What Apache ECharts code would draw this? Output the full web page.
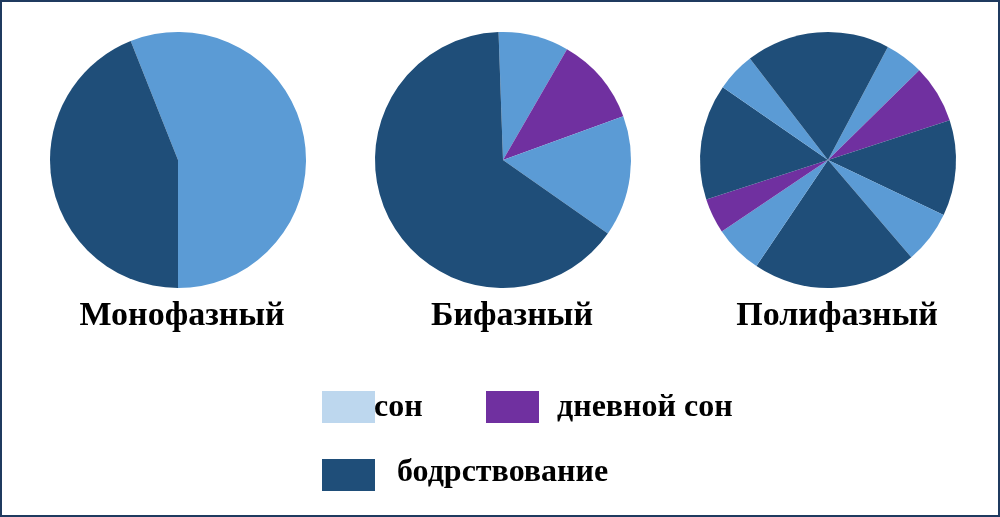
<!DOCTYPE html>
<html>
<head>
<meta charset="utf-8">
<script src="https://cdn.jsdelivr.net/npm/echarts@6/dist/echarts.min.js"></script>
<style>
html,body{margin:0;padding:0;background:#fff}
#chart{width:1000px;height:517px;box-sizing:border-box;border:2px solid #1f3a5f}
</style>
</head>
<body>
<div id="chart"></div>
<script>
// названия диаграмм
var pieNames = ['Монофазный', 'Бифазный', 'Полифазный'];
var legendNames = ['сон', 'дневной сон', 'бодрствование'];
// углы секторов (градусы), начиная с начального угла по часовой стрелке
var monoKinds = ['сон', 'бодрствование'];
var monoValues = [201.7, 158.3];
var biKinds = ['сон', 'дневной сон', 'сон', 'бодрствование'];
var biValues = [32, 40, 55, 233];
var polyKinds = ['сон', 'дневной сон', 'бодрствование', 'сон', 'бодрствование', 'сон', 'дневной сон', 'бодрствование', 'сон', 'бодрствование'];
var polyValues = [17.6, 26.4, 43.5, 24, 74.6, 22.1, 15.9, 52.7, 17.7, 65.5];
var startAngles = [111.7, 92, 62.1];

var colors = {'сон': '#5b9bd5', 'дневной сон': '#7030a0', 'бодрствование': '#1f4e79'};
var legendColors = ['#bdd7ee', '#7030a0', '#1f4e79'];

function makeData(kinds, values) {
    return values.map(function(v, i) {
        return {name: kinds[i] + i, value: v, itemStyle: {color: colors[kinds[i]]}};
    });
}

var myChart = echarts.init(document.getElementById('chart'));
var allData = [makeData(monoKinds, monoValues), makeData(biKinds, biValues), makeData(polyKinds, polyValues)];
var centersX = [176, 501, 826];
var titleX = [180, 510, 835];

var series = allData.map(function(d, i) {
    return {
        type: 'pie',
        center: [centersX[i], 158],
        radius: 128,
        startAngle: startAngles[i],
        clockwise: true,
        label: {show: false},
        labelLine: {show: false},
        silent: true,
        animation: false,
        itemStyle: {borderWidth: 0},
        data: d
    };
});

var font = {fontFamily: 'Liberation Serif', fontWeight: 'bold', fill: '#000'};
var graphics = pieNames.map(function(n, i) {
    return {type: 'text', left: titleX[i], top: 297, style: Object.assign({text: n, fontSize: 34, align: 'center'}, font),
        x: titleX[i], y: 297, left: null, top: null};
});
// легенда
var legendPos = [[320, 389, 372, 390], [484, 389, 555, 390], [320, 457, 395, 455]];
legendNames.forEach(function(n, i) {
    var p = legendPos[i];
    graphics.push({type: 'rect', shape: {x: p[0], y: p[1], width: 53, height: 32}, style: {fill: legendColors[i]}});
    graphics.push({type: 'text', x: p[2], y: p[3], style: Object.assign({text: n, fontSize: 32}, font)});
});

myChart.setOption({
    animation: false,
    series: series,
    graphic: graphics
});
</script>
</body>
</html>
